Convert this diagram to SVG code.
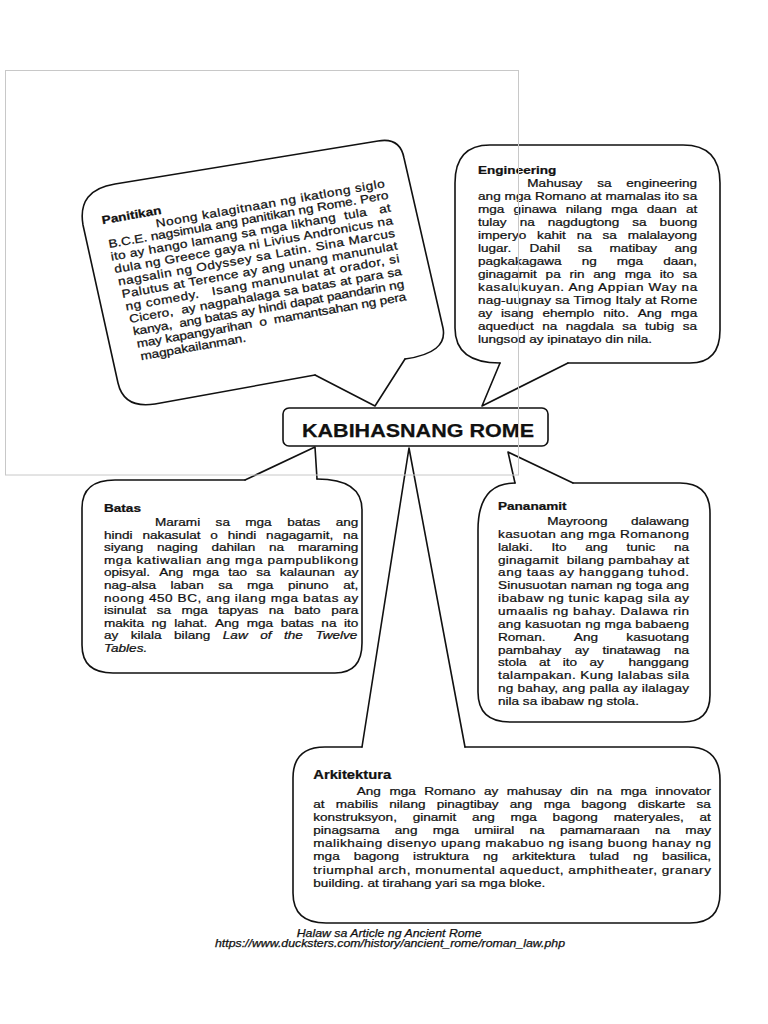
<svg xmlns="http://www.w3.org/2000/svg" width="768" height="1024" viewBox="0 0 768 1024">
<style>
.t{font-family:"Liberation Sans",Arial,sans-serif;font-size:11.5px;fill:#111;stroke:#111;stroke-width:0.25px}
.h{font-weight:bold}
.i{font-style:italic}
.b{fill:none;stroke:#111;stroke-width:1.6;stroke-linejoin:round;stroke-linecap:round}
.frame{fill:none;stroke:#c8c8c8;stroke-width:1}
</style>
<rect width="768" height="1024" fill="#fff"/>

<g id="connectors">
<polyline class="b" points="315,375 375,406 405,359"/>
<polyline class="b" points="500,363 482,406 568,363"/>
<polyline class="b" points="245,480 315,447 317,479"/>
<polyline class="b" points="515,483 508,452 573,483"/>
<polyline class="b" points="362,747 409,448 465,747"/>
</g>

<g id="title">
<rect class="b" x="283" y="408" width="265" height="38" rx="6"/>
<text class="t h" x="302" y="437" textLength="232" lengthAdjust="spacingAndGlyphs" style="font-size:18.5px">KABIHASNANG ROME</text>
</g>

<g id="panitikan">
<path class="b" d="M315,375 L155,404 Q124,409 118,383 L83,225 Q77,190 115,184 L378,141 Q400,137 404,158 L443,328 Q448,353 405,359"/>
<g transform="translate(109,247) rotate(-10) scale(1.18,1)">
<text class="t h" x="-2.1" y="-23.5">Panitikan</text>
<text class="t" x="42.6" y="-11" textLength="196.7" lengthAdjust="spacing">Noong kalagitnaan ng ikatlong siglo</text>
<text class="t" x="0" y="1" textLength="240.7" lengthAdjust="spacing">B.C.E. nagsimula ang panitikan ng Rome. Pero</text>
<text class="t" x="0" y="13.9" textLength="240.7" lengthAdjust="spacing" xml:space="preserve">ito ay hango lamang sa mga likhang  tula   at</text>
<text class="t" x="1.27" y="26.8" textLength="239.4" lengthAdjust="spacing">dula ng Greece gaya ni Livius Andronicus na</text>
<text class="t" x="2.54" y="39.7" textLength="238.1" lengthAdjust="spacing">nagsalin ng Odyssey sa Latin. Sina Marcus</text>
<text class="t" x="3.81" y="52.6" textLength="236.9" lengthAdjust="spacing">Palutus at Terence ay ang unang manunulat</text>
<text class="t" x="5.08" y="65.5" textLength="235.6" lengthAdjust="spacing" xml:space="preserve">ng comedy.   Isang manunulat at orador, si</text>
<text class="t" x="6.36" y="78.4" textLength="234.3" lengthAdjust="spacing" xml:space="preserve">Cicero,  ay nagpahalaga sa batas at para sa</text>
<text class="t" x="7.63" y="91.3" textLength="233.1" lengthAdjust="spacing" xml:space="preserve">kanya,  ang batas ay hindi dapat paandarin ng</text>
<text class="t" x="8.9" y="104.2" textLength="231.8" lengthAdjust="spacing" xml:space="preserve">may kapangyarihan  o  mamantsahan ng pera</text>
<text class="t" x="10.17" y="117.1">magpakailanman.</text>
</g>
</g>

<g id="engineering">
<path class="b" d="M568,363 L690,363 Q720,363 720,330 L720,183 Q720,145 683,145 L490,145 Q455,145 455,183 L455,328 Q455,363 500,363"/>
<g transform="translate(478,0) scale(1.18,1)">
<text class="t h" x="0" y="174">Engineering</text>
<text class="t" y="187.5"><tspan x="41.8">Mahusay </tspan><tspan x="101.1">sa </tspan><tspan x="125.7">engineering</tspan></text>
<text class="t" x="0" y="200.5" textLength="185.8" lengthAdjust="spacing">ang mga Romano at mamalas ito sa</text>
<text class="t" y="213.5"><tspan x="0">mga </tspan><tspan x="30.2">ginawa </tspan><tspan x="74.4">nilang </tspan><tspan x="112.8">mga </tspan><tspan x="143">daan </tspan><tspan x="176.3">at</tspan></text>
<text class="t" y="226.5"><tspan x="0">tulay </tspan><tspan x="35.3">na </tspan><tspan x="59.1">nagdugtong </tspan><tspan x="130.8">sa </tspan><tspan x="153.9">buong</tspan></text>
<text class="t" y="239.5"><tspan x="0">imperyo </tspan><tspan x="50.1">kahit </tspan><tspan x="83.6">na </tspan><tspan x="105.6">sa </tspan><tspan x="126.9">malalayong</tspan></text>
<text class="t" y="252.5"><tspan x="0">lugar. </tspan><tspan x="43.6">Dahil </tspan><tspan x="84.6">sa </tspan><tspan x="111.5">matibay </tspan><tspan x="166.6">ang</tspan></text>
<text class="t" y="265.5"><tspan x="0">pagkakagawa </tspan><tspan x="87.9">ng </tspan><tspan x="117.6">mga </tspan><tspan x="156.9">daan,</tspan></text>
<text class="t" y="278.5"><tspan x="0">ginagamit </tspan><tspan x="57.3">pa </tspan><tspan x="77.5">rin </tspan><tspan x="97.7">ang </tspan><tspan x="124.3">mga </tspan><tspan x="154.1">ito </tspan><tspan x="173.6">sa</tspan></text>
<text class="t" x="0" y="291.5" textLength="185.8" lengthAdjust="spacing">kasalukuyan. Ang Appian Way na</text>
<text class="t" x="0" y="304.5" textLength="185.8" lengthAdjust="spacing">nag-uugnay sa Timog Italy at Rome</text>
<text class="t" y="317.5"><tspan x="0">ay </tspan><tspan x="19.6">isang </tspan><tspan x="54.6">ehemplo </tspan><tspan x="106.2">nito. </tspan><tspan x="135.4">Ang </tspan><tspan x="163.4">mga</tspan></text>
<text class="t" y="330.5"><tspan x="0">aqueduct </tspan><tspan x="54.4">na </tspan><tspan x="74.3">nagdala </tspan><tspan x="122.3">sa </tspan><tspan x="141.5">tubig </tspan><tspan x="173.5">sa</tspan></text>
<text class="t" x="0" y="343.5">lungsod ay ipinatayo din nila.</text>
</g>
</g>

<g id="batas">
<path class="b" d="M317,479 Q362,479 362,510 L362,643 Q362,673 335,673 L113,673 Q82,673 82,645 L82,508 Q82,480 115,480 L245,480"/>
<g transform="translate(104,0) scale(1.18,1)">
<text class="t h" x="0" y="512">Batas</text>
<text class="t" y="526"><tspan x="43.2">Marami </tspan><tspan x="94.6">sa </tspan><tspan x="119.7">mga </tspan><tspan x="155.2">batas </tspan><tspan x="196.3">ang</tspan></text>
<text class="t" y="538.6"><tspan x="0">hindi </tspan><tspan x="32.6">nakasulat </tspan><tspan x="90.1">o </tspan><tspan x="104.8">hindi </tspan><tspan x="137.4">nagagamit, </tspan><tspan x="202.6">na</tspan></text>
<text class="t" y="551.2"><tspan x="0">siyang </tspan><tspan x="44.9">naging </tspan><tspan x="91.1">dahilan </tspan><tspan x="139.9">na </tspan><tspan x="164.4">maraming</tspan></text>
<text class="t" x="0" y="563.8" textLength="215.5" lengthAdjust="spacing">mga katiwalian ang mga pampublikong</text>
<text class="t" y="576.4"><tspan x="0">opisyal. </tspan><tspan x="46.8">Ang </tspan><tspan x="75.1">mga </tspan><tspan x="105.3">tao </tspan><tspan x="129.1">sa </tspan><tspan x="149">kalaunan </tspan><tspan x="203.5">ay</tspan></text>
<text class="t" y="589"><tspan x="0">nag-alsa </tspan><tspan x="56.4">laban </tspan><tspan x="96.8">sa </tspan><tspan x="121.2">mga </tspan><tspan x="155.9">pinuno </tspan><tspan x="202.7">at,</tspan></text>
<text class="t" x="0" y="601.6" textLength="215.5" lengthAdjust="spacing">noong 450 BC, ang ilang mga batas ay</text>
<text class="t" y="614.2"><tspan x="0">isinulat </tspan><tspan x="44.65">sa </tspan><tspan x="65.6">mga </tspan><tspan x="96.85">tapyas </tspan><tspan x="139.6">na </tspan><tspan x="161.25">bato </tspan><tspan x="192.5">para</tspan></text>
<text class="t" y="626.8"><tspan x="0">makita </tspan><tspan x="40.3">ng </tspan><tspan x="59.5">lahat. </tspan><tspan x="94">Ang </tspan><tspan x="120.9">mga </tspan><tspan x="149.7">batas </tspan><tspan x="184.2">na </tspan><tspan x="203.4">ito</tspan></text>
<text class="t" y="639.4"><tspan x="0">ay </tspan><tspan x="22.7">kilala </tspan><tspan x="59.4">bilang </tspan><tspan class="i" x="100.7">Law </tspan><tspan class="i" x="132.4">of </tspan><tspan class="i" x="152.6">the </tspan><tspan class="i" x="179.2">Twelve</tspan></text>
<text class="t i" x="0" y="652">Tables.</text>
</g>
</g>

<g id="pananamit">
<path class="b" d="M573,483 L680,483 Q710,483 710,513 L710,695 Q710,722 683,722 L510,722 Q478,722 478,692 L478,530 Q478,483 515,483"/>
<g transform="translate(498,0) scale(1.18,1)">
<text class="t h" x="0" y="510">Pananamit</text>
<text class="t" y="525"><tspan x="41.8">Mayroong </tspan><tspan x="112.7">dalawang</tspan></text>
<text class="t" x="0" y="537.9" textLength="161.9" lengthAdjust="spacing">kasuotan ang mga Romanong</text>
<text class="t" y="550.7"><tspan x="0">lalaki. </tspan><tspan x="45.25">Ito </tspan><tspan x="73.9">ang </tspan><tspan x="108.95">tunic </tspan><tspan x="149.1">na</tspan></text>
<text class="t" x="0" y="563.6" textLength="161.9" lengthAdjust="spacing" xml:space="preserve">ginagamit  bilang pambahay at</text>
<text class="t" x="0" y="576.4" textLength="161.9" lengthAdjust="spacing">ang taas ay hanggang tuhod.</text>
<text class="t" x="0" y="589.3" textLength="161.9" lengthAdjust="spacing">Sinusuotan naman ng toga ang</text>
<text class="t" x="0" y="602.2" textLength="161.9" lengthAdjust="spacing">ibabaw ng tunic kapag sila ay</text>
<text class="t" x="0" y="615" textLength="161.9" lengthAdjust="spacing">umaalis ng bahay. Dalawa rin</text>
<text class="t" x="0" y="627.9" textLength="161.9" lengthAdjust="spacing">ang kasuotan ng mga babaeng</text>
<text class="t" y="640.7"><tspan x="0">Roman. </tspan><tspan x="64.3">Ang </tspan><tspan x="108.8">kasuotang</tspan></text>
<text class="t" y="653.6"><tspan x="0">pambahay </tspan><tspan x="65.1">ay </tspan><tspan x="88.5">tinatawag </tspan><tspan x="149.1">na</tspan></text>
<text class="t" y="666.5"><tspan x="0">stola </tspan><tspan x="34.8">at </tspan><tspan x="54.9">ito </tspan><tspan x="77.5">ay </tspan><tspan x="110.6">hanggang</tspan></text>
<text class="t" x="0" y="679.3" textLength="161.9" lengthAdjust="spacing">talampakan. Kung lalabas sila</text>
<text class="t" x="0" y="692.2" textLength="161.9" lengthAdjust="spacing">ng bahay, ang palla ay ilalagay</text>
<text class="t" x="0" y="705">nila sa ibabaw ng stola.</text>
</g>
</g>

<g id="arkitektura">
<path class="b" d="M465,747 L688,747 Q720,747 720,780 L720,893 Q720,923 690,923 L326,923 Q293,923 293,893 L293,778 Q293,747 325,747 L362,747"/>
<g transform="translate(313.3,0) scale(1.18,1)">
<text class="t h" x="0" y="779.5" style="font-size:12.5px">Arkitektura</text>
<text class="t" y="795"><tspan x="36.8">Ang </tspan><tspan x="64.5">mga </tspan><tspan x="94">Romano </tspan><tspan x="144.7">ay </tspan><tspan x="164">mahusay </tspan><tspan x="217.8">din </tspan><tspan x="240.3">na </tspan><tspan x="260.3">mga </tspan><tspan x="289.8">innovator</tspan></text>
<text class="t" y="808.1"><tspan x="0">at </tspan><tspan x="19.1">mabilis </tspan><tspan x="64.4">nilang </tspan><tspan x="104.6">pinagtibay </tspan><tspan x="166.5">ang </tspan><tspan x="195.2">mga </tspan><tspan x="227.1">bagong </tspan><tspan x="275">diskarte </tspan><tspan x="324.8">sa</tspan></text>
<text class="t" y="821.2"><tspan x="0">konstruksyon, </tspan><tspan x="84.2">ginamit </tspan><tspan x="134.6">ang </tspan><tspan x="167.1">mga </tspan><tspan x="202.8">bagong </tspan><tspan x="254.6">materyales, </tspan><tspan x="327.3">at</tspan></text>
<text class="t" y="834.3"><tspan x="0">pinagsama </tspan><tspan x="69.1">ang </tspan><tspan x="101.2">mga </tspan><tspan x="136.5">umiiral </tspan><tspan x="183.3">na </tspan><tspan x="209">pamamaraan </tspan><tspan x="289.6">na </tspan><tspan x="315.3">may</tspan></text>
<text class="t" x="0" y="847.4" textLength="337" lengthAdjust="spacing">malikhaing disenyo upang makabuo ng isang buong hanay ng</text>
<text class="t" y="860.5"><tspan x="0">mga </tspan><tspan x="34.3">bagong </tspan><tspan x="84.6">istruktura </tspan><tspan x="143.8">ng </tspan><tspan x="168.5">arkitektura </tspan><tspan x="234.1">tulad </tspan><tspan x="270.9">ng </tspan><tspan x="295.6">basilica,</tspan></text>
<text class="t" x="0" y="873.6" textLength="337" lengthAdjust="spacing">triumphal arch, monumental aqueduct, amphitheater, granary</text>
<text class="t" x="0" y="886.7">building. at tirahang yari sa mga bloke.</text>
</g>
</g>

<g id="footer">
<text class="t i" x="296.7" y="936.5" style="font-size:10.3px" textLength="185" lengthAdjust="spacingAndGlyphs">Halaw sa Article ng Ancient Rome</text>
<text class="t i" x="215" y="947.3" style="font-size:10.3px" textLength="350" lengthAdjust="spacingAndGlyphs">https://www.ducksters.com/history/ancient_rome/roman_law.php</text>
</g>

<rect class="frame" x="5.5" y="70.5" width="513" height="404.5"/>
</svg>
